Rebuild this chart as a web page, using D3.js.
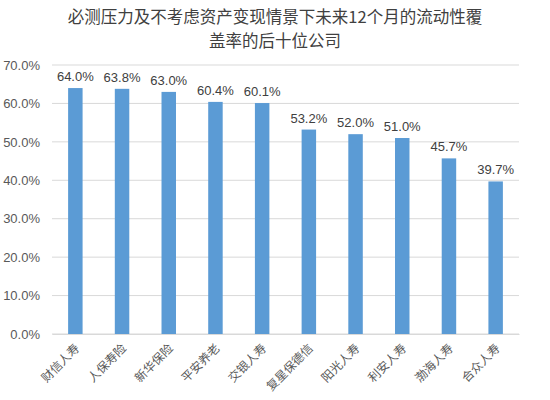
<!DOCTYPE html>
<html>
<head>
<meta charset="utf-8">
<script src="https://d3js.org/d3.v7.min.js"></script>
<style>
 body { margin: 0; background: #fff; }
</style>
</head>
<body>
<div id="chart"></div>
<script>
// data
var companies = ["财信人寿", "人保寿险", "新华保险", "平安养老", "交银人寿", "复星保德信", "阳光人寿", "利安人寿", "渤海人寿", "合众人寿"];
var ratios = [64.0, 63.8, 63.0, 60.4, 60.1, 53.2, 52.0, 51.0, 45.7, 39.7];
var yTicks = [0, 10, 20, 30, 40, 50, 60, 70];
var titleLines = ["必测压力及不考虑资产变现情景下未来12个月的流动性覆", "盖率的后十位公司"];

var W = 550, H = 400;
var margin = {top: 65, right: 31, bottom: 66, left: 52};
var width = W - margin.left - margin.right;
var height = H - margin.top - margin.bottom;

var svg = d3.select("#chart").append("svg")
  .attr("width", W)
  .attr("height", H);

//title
svg.append("g").selectAll("text")
  .data(titleLines)
  .enter().append("text")
  .attr("x", W / 2)
  .attr("y", function(d, i) { return 23 + i * 24; })
  .attr("text-anchor", "middle")
  .style("font-family", "'Noto Sans CJK SC', sans-serif")
  .style("font-size", "16.5px")
  .style("fill", "#404040")
  .text(function(d) { return d; });

var x = d3.scaleBand().domain(companies).range([0, width])
  .paddingInner(0.69).paddingOuter(0.345);
var y = d3.scaleLinear().domain([0, 70]).range([height, 0]);

var g = svg.append("g")
  .attr("transform", "translate(" + margin.left + "," + margin.top + ")");

//grid lines
g.selectAll(".grid")
  .data(yTicks)
  .enter().append("line")
  .attr("x1", 0)
  .attr("x2", width)
  .attr("y1", function(d) { return y(d); })
  .attr("y2", function(d) { return y(d); })
  .attr("stroke", "#d9d9d9")
  .attr("stroke-width", 1);

//y axis (labels only)
var yAxis = g.append("g")
  .call(d3.axisLeft(y).tickValues(yTicks).tickSize(0).tickPadding(12)
    .tickFormat(function(d) { return d.toFixed(1) + "%"; }));
yAxis.select(".domain").remove();
yAxis.selectAll("text")
  .style("font-family", "'Liberation Sans', Arial, sans-serif")
  .style("font-size", "13px")
  .style("fill", "#595959");

//bars
g.selectAll(".bar")
  .data(ratios)
  .enter().append("rect")
  .attr("class", "bar")
  .attr("fill", "#5b9bd5")
  .attr("x", function(d, i) { return x(companies[i]); })
  .attr("width", x.bandwidth())
  .attr("y", function(d) { return y(d); })
  .attr("height", function(d) { return height - y(d); });

//value labels
g.selectAll(".val")
  .data(ratios)
  .enter().append("text")
  .attr("x", function(d, i) { return x(companies[i]) + x.bandwidth() / 2; })
  .attr("y", function(d) { return y(d) - 7; })
  .attr("text-anchor", "middle")
  .style("font-family", "'Liberation Sans', Arial, sans-serif")
  .style("font-size", "13px")
  .style("fill", "#404040")
  .text(function(d) { return d.toFixed(1) + "%"; });

//x axis
var xAxis = g.append("g")
  .attr("transform", "translate(0," + height + ")")
  .call(d3.axisBottom(x).tickSize(0).tickPadding(0));
xAxis.select(".domain").attr("stroke", "#d9d9d9");
xAxis.selectAll("text")
  .attr("text-anchor", "end")
  .attr("dy", 0)
  .attr("transform", "translate(5,15) rotate(-45)")
  .style("font-family", "'Noto Sans CJK SC', sans-serif")
  .style("font-size", "12px")
  .style("fill", "#595959");
</script>
</body>
</html>
